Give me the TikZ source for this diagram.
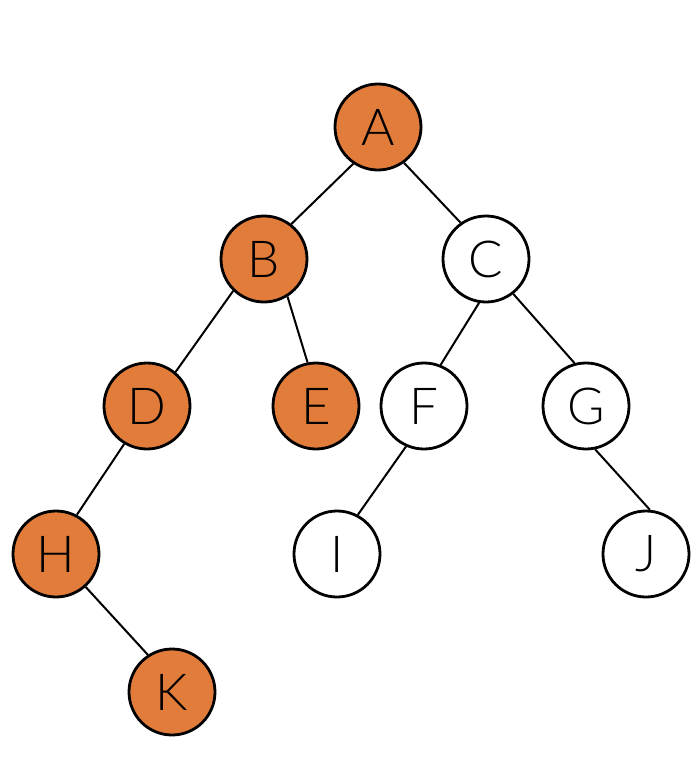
\documentclass[tikz,border=0pt]{standalone}
\usepackage{fontspec}
\setmainfont{Lato Light}
\definecolor{nodeorange}{RGB}{226,124,58}
\begin{document}
\begin{tikzpicture}[x=1pt,y=-1pt,
  tnode/.style={circle,draw=black,line width=2.8pt,minimum size=86pt,inner sep=0pt,font=\fontsize{51}{51}\selectfont},
  visited/.style={tnode,fill=nodeorange},
  plain/.style={tnode,fill=white},
  edge/.style={line width=2pt}]
\useasboundingbox[fill=white] (0,0) rectangle (696,776);
\node[visited] (A) at (378,127) {A};
\node[visited] (B) at (264,259) {B};
\node[plain]   (C) at (486,259) {C};
\node[visited] (D) at (147,406) {D};
\node[visited] (E) at (316,406) {E};
\node[plain]   (F) at (424,406) {F};
\node[plain]   (G) at (586,406) {G};
\node[visited] (H) at (56,554) {H};
\node[plain]   (I) at (337,554) {I};
\node[plain]   (J) at (646,554) {J};
\node[visited] (K) at (172,692) {K};
\draw[edge] (A.-124) -- (B.52);
\draw[edge] (A.-54) -- (C.125);
\draw[edge] (B.-134) -- (D.50);
\draw[edge] (B.-58) -- (E.101);
\draw[edge] (C.-99) -- (F.68);
\draw[edge] (C.-52) -- (G.105);
\draw[edge] (D.-121) -- (H.62);
\draw[edge] (F.-114) -- (I.62);
\draw[edge] (G.-78) -- (J.85);
\draw[edge] (H.-48) -- (K.123);
\end{tikzpicture}
\end{document}
